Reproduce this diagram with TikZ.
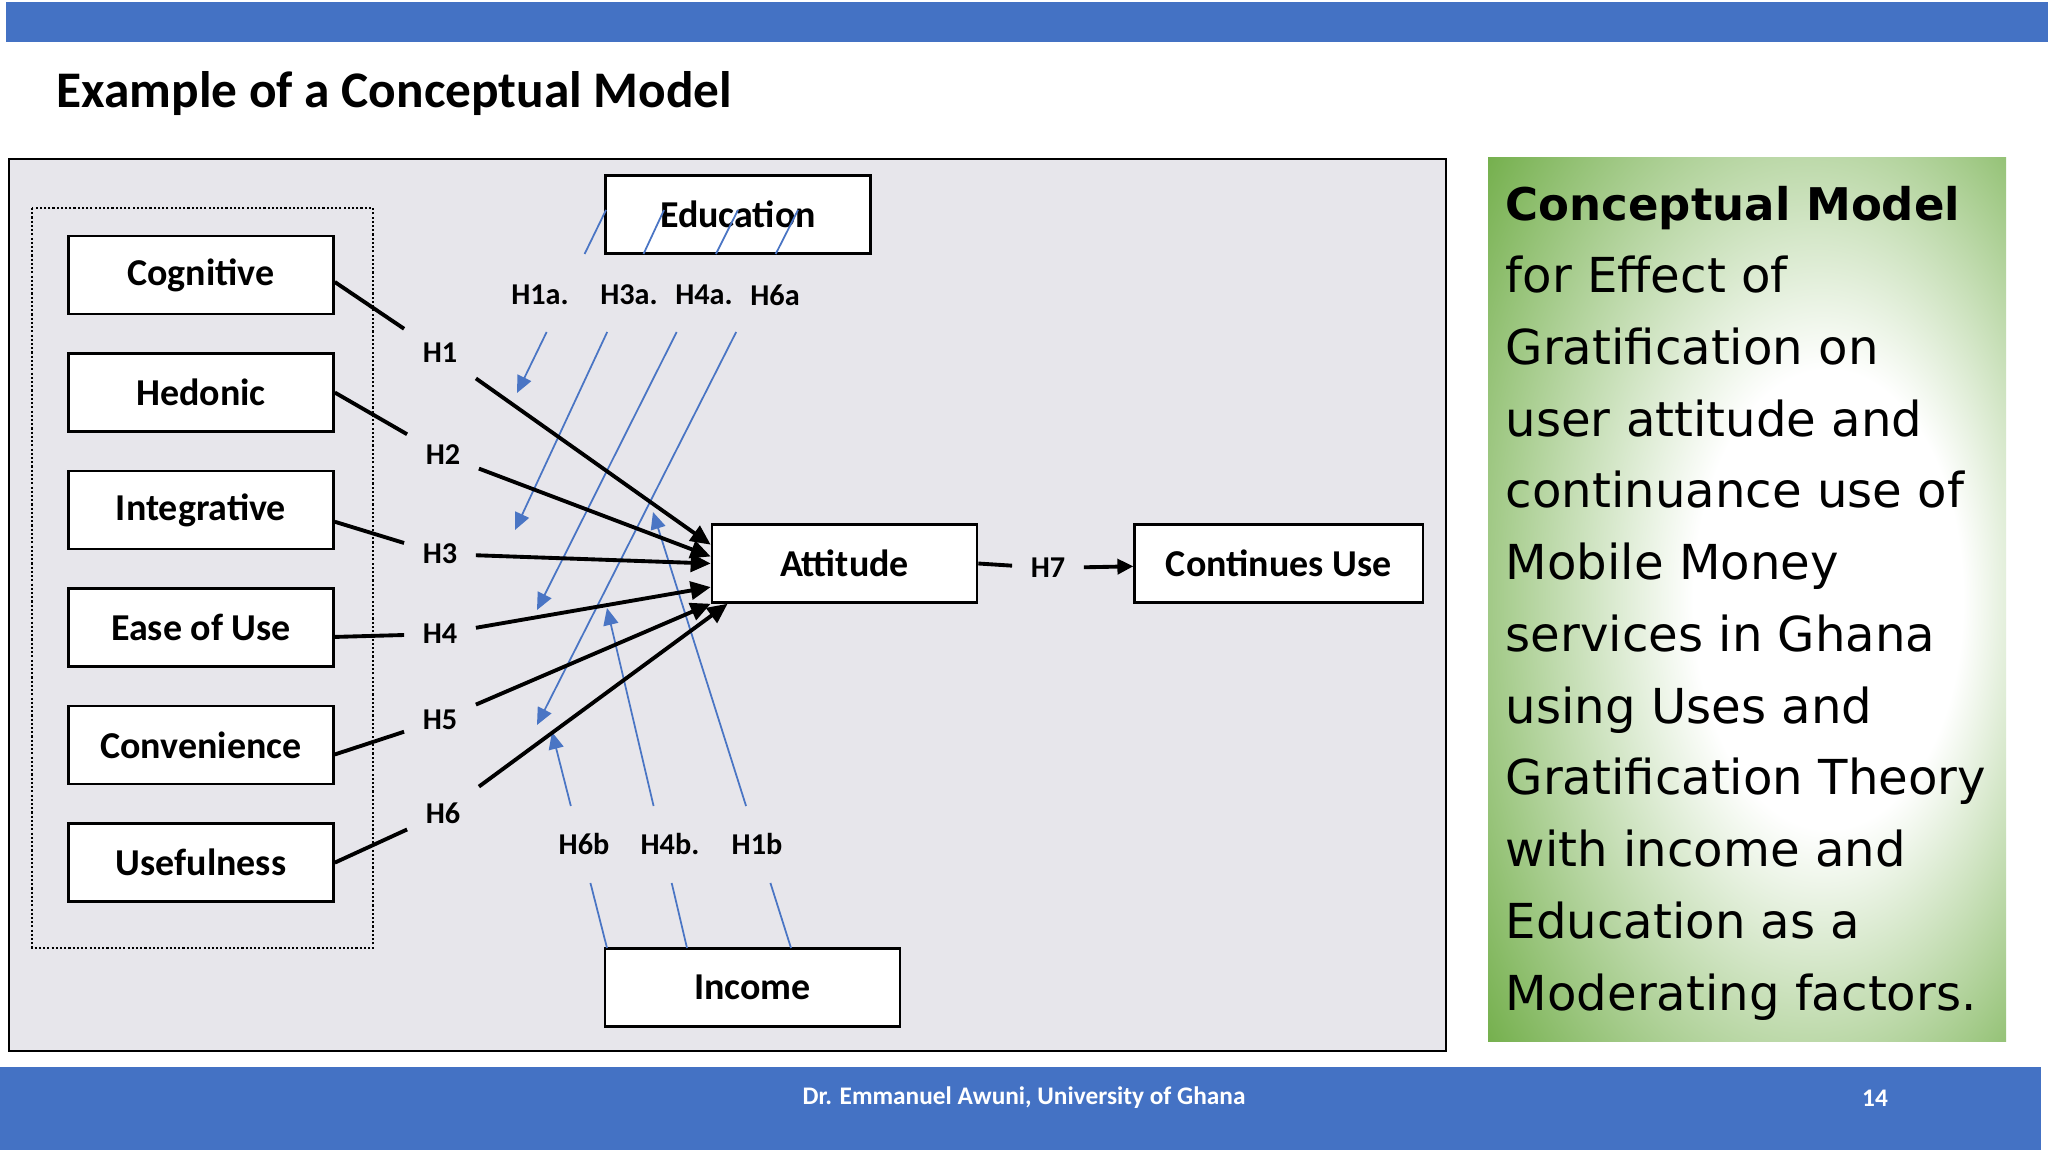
\documentclass[tikz,border=0pt]{standalone}
\usepackage{fontspec}
\setmainfont{Carlito}
\newfontfamily\dejavu{DejaVu Sans}
\usetikzlibrary{arrows.meta, positioning, calc}

\definecolor{barblue}{RGB}{68,114,196}
\definecolor{panelgray}{RGB}{231,230,235}
\definecolor{modblue}{RGB}{74,117,196}
\definecolor{glowgreen}{RGB}{112,173,71}
\pgfdeclareradialshading{greenglow}{\pgfpoint{10bp}{0bp}}{color(0bp)=(white); color(13bp)=(white); color(39bp)=(glowgreen); color(60bp)=(glowgreen)}

\begin{document}
\begin{tikzpicture}[x=0.01cm, y=-0.01cm,
    factor/.style={draw, line width=0.7pt, fill=white, minimum width=2.65cm, minimum height=0.78cm, font=\bfseries\fontsize{10.8}{12}\selectfont},
    hyp/.style={font=\bfseries\fontsize{8.6}{10}\selectfont, inner sep=0.18cm},
    modlabel/.style={font=\bfseries\fontsize{8.6}{10}\selectfont, inner sep=0pt},
    hline/.style={line width=1.1pt},
    harrow/.style={hline, -{Triangle[length=0.2cm,width=0.18cm]}},
    modline/.style={modblue, line width=0.5pt},
    modarrow/.style={modline, -{Triangle[length=0.17cm,width=0.15cm]}}]
    \useasboundingbox (0,0) rectangle (2048,1152);
    \fill[white] (0,0) rectangle (2048,1152);
    \fill[barblue] (6,2) rectangle (2048,42);
    \node[anchor=base west, inner sep=0pt, font=\bfseries\fontsize{14.6}{17}\selectfont] (title) at (56,108) {Example of a Conceptual Model};
    \draw[line width=0.6pt, fill=panelgray] (9,159) rectangle (1446,1051);
    \shade[shading=greenglow] (1488,158) rectangle (2006,1041);
    \node[anchor=base west, align=left, inner sep=0pt, font=\dejavu\fontsize{13.7}{20.4}\selectfont] (note) at (1505,1010)
        {{\bfseries\fontsize{12.8}{20.4}\selectfont Conceptual Model}\\for Effect of\\Gratification on\\user attitude and\\continuance use of\\Mobile Money\\services in Ghana\\using Uses and\\Gratification Theory\\with income and\\Education as a\\Moderating factors.};
    \fill[barblue] (0,1067) rectangle (2041,1150);
    \node[white, font=\bfseries\fontsize{7.2}{9}\selectfont] (footer) at (1024,1098) {Dr. Emmanuel Awuni, University of Ghana};
    \node[white, font=\bfseries\fontsize{7.2}{9}\selectfont] (pagenum) at (1875,1098) {14};

    % Gratification factors
    \draw[dash pattern=on 0.6pt off 0.6pt, line width=0.6pt] (32,208) rectangle (373,948);
    \node[factor] (cognitive) at (201,275) {Cognitive};
    \node[factor, below=0.37cm of cognitive] (hedonic) {Hedonic};
    \node[factor, below=0.37cm of hedonic] (integrative) {Integrative};
    \node[factor, below=0.37cm of integrative] (ease) {Ease of Use};
    \node[factor, below=0.37cm of ease] (convenience) {Convenience};
    \node[factor, below=0.37cm of convenience] (usefulness) {Usefulness};
    \node[factor] (education) at (738,214.5) {Education};
    \node[factor] (attitude) at (844.5,563.5) {Attitude};
    \node[factor, minimum width=2.88cm, right=1.55cm of attitude] (continues) {Continues Use};
    \node[factor, minimum width=2.95cm] (income) at (752.5,987.5) {Income};

    \node[hyp] (h1) at (440,353) {H1};
    \node[hyp] (h2) at (443,455) {H2};
    \node[hyp] (h3) at (440,554) {H3};
    \node[hyp] (h4) at (440,634) {H4};
    \node[hyp] (h5) at (440,720) {H5};
    \node[hyp] (h6) at (443,813) {H6};
    \node[hyp] (h7) at (1048,568) {H7};

    \node[modlabel] (h1a) at (540,295) {H1a.};
    \node[modlabel] (h3a) at (629,295) {H3a.};
    \node[modlabel] (h4a) at (704,295) {H4a.};
    \node[modlabel] (h6a) at (775,295) {H6a};
    \node[modlabel] (h6b) at (584,844) {H6b};
    \node[modlabel] (h4b) at (670,844) {H4b.};
    \node[modlabel] (h1b) at (757,844) {H1b};

    % Moderators
    \foreach \n/\xt/\xp/\yp in {1/606/517/393, 3/664/515/530, 4/738/537/610, 6/798/537/725}{
        \coordinate (edu\n) at (\xt,210);
        \coordinate (tipa\n) at (\xp,\yp);
        \pgfmathsetmacro\cutA{44/(\yp-210)}
        \pgfmathsetmacro\cutB{122/(\yp-210)}
        \draw[modline] (edu\n) -- ($(edu\n)!\cutA!(tipa\n)$);
        \draw[modarrow] ($(edu\n)!\cutB!(tipa\n)$) -- (tipa\n);
    }
    \foreach \n/\xb/\xp/\yp in {6/607/552/732, 4/687/607/608, 1/791/653/512}{
        \coordinate (inc\n) at (\xb,948);
        \coordinate (tipb\n) at (\xp,\yp);
        \pgfmathsetmacro\cutA{65/(948-\yp)}
        \pgfmathsetmacro\cutB{142/(948-\yp)}
        \draw[modline] (inc\n) -- ($(inc\n)!\cutA!(tipb\n)$);
        \draw[modarrow] ($(inc\n)!\cutB!(tipb\n)$) -- (tipb\n);
    }

    \draw[hline] (cognitive.-3) -- (h1);
    \draw[harrow] (h1) -- (attitude.172);
    \draw[hline] (hedonic.east) -- (h2);
    \draw[harrow] (h2) -- (attitude.177);
    \draw[hline] (integrative.-5) -- (h3);
    \draw[harrow] (h3) -- (attitude.west);
    \draw[hline] (ease.-4) -- (h4);
    \draw[harrow] (h4) -- (attitude.190);
    \draw[hline] (convenience.-4) -- (h5);
    \draw[harrow] (h5) -- (attitude.south west);
    \draw[hline] (usefulness.east) -- (h6);
    \draw[harrow] (h6) -- (attitude.199);
    \draw[hline] (attitude.east) -- (h7);
    \draw[hline, -{Triangle[length=0.16cm,width=0.15cm]}] (h7) -- (continues);
\end{tikzpicture}
\end{document}
